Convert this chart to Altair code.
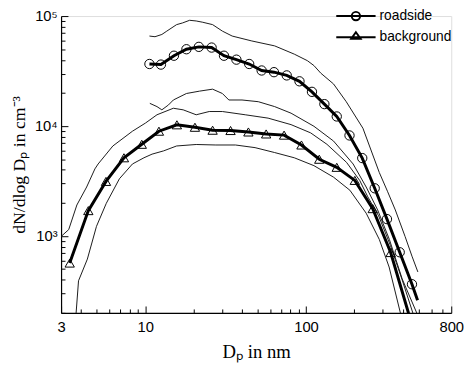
import altair as alt
import pandas as pd

# ---------------- data ----------------
series_names = ["roadside", "background"]

rs_mean_dp = [10.63, 12.53, 15.10, 18.05, 21.57, 25.89, 30.90, 36.93, 44.33, 52.98, 63.23, 75.88,
              91.08, 108.9, 130.1, 155.3, 186.4, 223.7, 267.4, 318.7, 382.4, 455.9, 493.9]
rs_mean_n = [36660, 36210, 43590, 49930, 52470, 51710, 43590, 40150, 36660, 32000, 30890, 28870,
             25510, 20460, 15820, 12220, 8210, 5112, 2716, 1425, 711.6, 364.3, 261]

bg_mean_dp = [3.395, 4.432, 5.707, 7.379, 9.526, 12.18, 15.75, 20.39, 26.26, 33.95, 43.83, 56.51,
              73.07, 93.68, 120.9, 155.3, 201.1, 259.9, 336.0, 434.0]
bg_mean_n = [567.5, 1702, 3137, 5144, 6823, 8974, 10260, 9745, 9162, 9105, 8829, 8472,
             8264, 6724, 4989, 4213, 3203, 1774, 707.3, 198.4]

rs_upper_dp = [10.63, 11.51, 12.70, 13.63, 15.68, 17.06, 18.90, 20.76, 22.81, 26.26, 30.21, 34.76,
               46.04, 63.85, 84.57, 101.9, 112.0, 123.5, 148.3, 177.9, 225.9, 285.6, 320.9, 359.1,
               413.1, 455.9, 496.0]
rs_upper_n = [65800, 64870, 68030, 72970, 83580, 86560, 91530, 90230, 87830, 83580, 72970, 65800,
              59370, 53570, 45050, 39320, 35470, 30270, 24130, 16650, 9547, 3777, 2554, 1726,
              989.7, 655.4, 471.3]

rs_lower_dp = [10.69, 11.84, 12.70, 13.96, 14.97, 18.05, 21.75, 26.26, 30.21, 33.14, 40.00, 50.50,
               63.85, 80.72, 112.0, 148.3, 196.3, 236.6, 278.9, 330.0, 396.0, 489.0]
rs_lower_n = [16080, 15020, 14040, 15550, 17250, 19760, 20760, 21640, 19760, 17250, 17250, 16650,
              15020, 13090, 9950, 7303, 4519, 2790, 1726, 930.3, 408, 198.4]

bg_upper_dp = [3.000, 3.347, 3.761, 4.327, 4.869, 5.100, 6.297, 8.337, 10.05, 11.84, 14.97, 17.23,
               20.76, 25.02, 30.21, 41.90, 58.12, 80.72, 106.9, 134.9, 178.7, 215.7, 242.3, 282.8,
               334.6, 396.0, 462.3]
bg_upper_n = [989.7, 1144, 1914, 2790, 4076, 4519, 6588, 8974, 10650, 12660, 14510, 14040,
              12660, 13550, 13550, 12660, 11800, 10300, 8666, 6823, 4670, 3203, 2271, 1526,
              822, 400, 198.4]

bg_lower_dp = [3.719, 3.851, 4.370, 4.980, 5.731, 6.917, 8.337, 9.824, 11.04, 13.01, 15.68, 20.76,
               27.50, 36.42, 48.22, 63.85, 84.57, 112.0, 148.3, 187.4, 236.6, 285.6, 328.6, 386.7]
bg_lower_n = [198.4, 391.5, 616.3, 1224, 1982, 3317, 4519, 5144, 5553, 5943, 6588, 6795,
              6724, 6724, 6362, 5740, 5144, 4363, 3429, 2607, 1613, 930.3, 522.6, 198.4]

x_label_values = [3, 10, 100, 800]
x_tick_values = [3, 4, 5, 6, 7, 8, 9, 10, 20, 30, 40, 50, 60, 70, 80, 90,
                 100, 200, 300, 400, 500, 600, 700, 800]
y_label_values = [1000, 10000, 100000]
y_tick_values = [200, 300, 400, 500, 600, 700, 800, 900,
                 1000, 2000, 3000, 4000, 5000, 6000, 7000, 8000, 9000,
                 10000, 20000, 30000, 40000, 50000, 60000, 70000, 80000, 90000, 100000]

# ---------------- frames ----------------
def frame(dp, n, name):
    return pd.DataFrame({"Dp": dp, "N": n, "series": name, "i": list(range(len(dp)))})

thin = pd.concat([
    frame(rs_upper_dp, rs_upper_n, "rs_upper"),
    frame(rs_lower_dp, rs_lower_n, "rs_lower"),
    frame(bg_upper_dp, bg_upper_n, "bg_upper"),
    frame(bg_lower_dp, bg_lower_n, "bg_lower"),
], ignore_index=True)

thick = pd.concat([
    frame(rs_mean_dp, rs_mean_n, "roadside"),
    frame(bg_mean_dp, bg_mean_n, "background"),
], ignore_index=True)

markers = pd.concat([
    frame(rs_mean_dp[:-1], rs_mean_n[:-1], "roadside"),
    frame(bg_mean_dp[:-1], bg_mean_n[:-1], "background"),
], ignore_index=True)

W, H = 397, 302
xscale = alt.Scale(type="log", domain=[3, 800], nice=False)
yscale = alt.Scale(type="log", domain=[200, 100000], nice=False)

LABEL_FONT = "Liberation Sans"
TITLE_FONT = "Liberation Serif"

x_major_test = "datum.value == 3 || datum.value == 10 || datum.value == 100 || datum.value == 800"
y_major_test = "datum.value == 1000 || datum.value == 10000 || datum.value == 100000"

x_label_axis = alt.Axis(
    orient="bottom", values=x_label_values, ticks=False, grid=False,
    domain=True, domainColor="black", domainWidth=1.2,
    labelFont=LABEL_FONT, labelFontSize=15, labelColor="black", labelPadding=7,
    labelFlush=False,
    title="Dₚ  in nm", titleFont=TITLE_FONT, titleFontSize=19, titleFontWeight="normal",
    titleColor="black", titlePadding=8,
)
y_label_axis = alt.Axis(
    orient="left", values=y_label_values, ticks=False, grid=False,
    domain=True, domainColor="black", domainWidth=1.2,
    labelFont=LABEL_FONT, labelFontSize=15, labelColor="black", labelPadding=4,
    labelFlush=False,
    labelExpr="datum.value >= 99999 ? '10⁵' : (datum.value >= 9999 ? '10⁴' : '10³')",
    title="dN/dlog Dₚ  in cm⁻³", titleFont=TITLE_FONT, titleFontSize=18, titleFontWeight="normal",
    titleColor="black", titlePadding=6,
)
x_tick_axis = alt.Axis(
    orient="top", offset=-H, values=x_tick_values, labels=False, domain=False, grid=False,
    tickColor="black", tickWidth=1,
    tickSize={"condition": {"test": x_major_test, "value": 7}, "value": 4},
    title=None,
)
y_tick_axis = alt.Axis(
    orient="right", offset=-W, values=y_tick_values, labels=False, domain=False, grid=False,
    tickColor="black", tickWidth=1,
    tickSize={"condition": {"test": y_major_test, "value": 7}, "value": 4},
    title=None,
)

thin_layer = alt.Chart(thin).mark_line(color="#1a1a1a", strokeWidth=1, clip=True).encode(
    x=alt.X("Dp:Q", scale=xscale, axis=x_label_axis),
    y=alt.Y("N:Q", scale=yscale, axis=y_label_axis),
    detail="series:N",
    order="i:Q",
)

thick_layer = alt.Chart(thick).mark_line(color="black", strokeWidth=3, clip=True).encode(
    x=alt.X("Dp:Q", scale=xscale, axis=x_tick_axis),
    y=alt.Y("N:Q", scale=yscale, axis=y_tick_axis),
    detail="series:N",
    order="i:Q",
)

marker_layer = alt.Chart(markers).mark_point(
    filled=False, color="black", strokeWidth=1, size=90, clip=True, opacity=1
).encode(
    x=alt.X("Dp:Q", scale=xscale, axis=None),
    y=alt.Y("N:Q", scale=yscale, axis=None),
    shape=alt.Shape("series:N", scale=alt.Scale(domain=series_names, range=["circle", "triangle-up"]),
                    legend=None),
)

circ_path = "M-4,0L4,0M0.85,0A0.85,0.85,0,1,1,-0.85,0A0.85,0.85,0,1,1,0.85,0"
tri_path = "M-4,0L4,0M0,-1L0.95,0.3L-0.95,0.3Z"

legend_layer = alt.Chart(markers).transform_filter("false").mark_point(
    filled=False, color="black", strokeWidth=2, size=100
).encode(
    x=alt.X("Dp:Q", scale=xscale, axis=None),
    y=alt.Y("N:Q", scale=yscale, axis=None),
    shape=alt.Shape("series:N", scale=alt.Scale(domain=series_names, range=[circ_path, tri_path]),
                    legend=alt.Legend(
                        title=None, orient="none", legendX=293, legendY=-7, padding=0,
                        labelFont=LABEL_FONT, labelFontSize=14, labelColor="black",
                        labelOffset=17, rowPadding=3.5, symbolSize=100,
                        symbolStrokeColor="black", symbolFillColor="transparent",
                        symbolStrokeWidth=2, symbolOpacity=1,
                    )),
)

chart = alt.layer(thin_layer, thick_layer, marker_layer, legend_layer).resolve_scale(
    shape="independent"
).resolve_axis(
    x="independent", y="independent"
).properties(
    width=W, height=H,
    autosize=alt.AutoSizeParams(type="none"),
    padding={"left": 54, "top": 5, "right": 15, "bottom": 60},
).configure_view(stroke=None).configure(background="white")

chart.save("out.html", embed_options={"renderer": "svg", "actions": False})
